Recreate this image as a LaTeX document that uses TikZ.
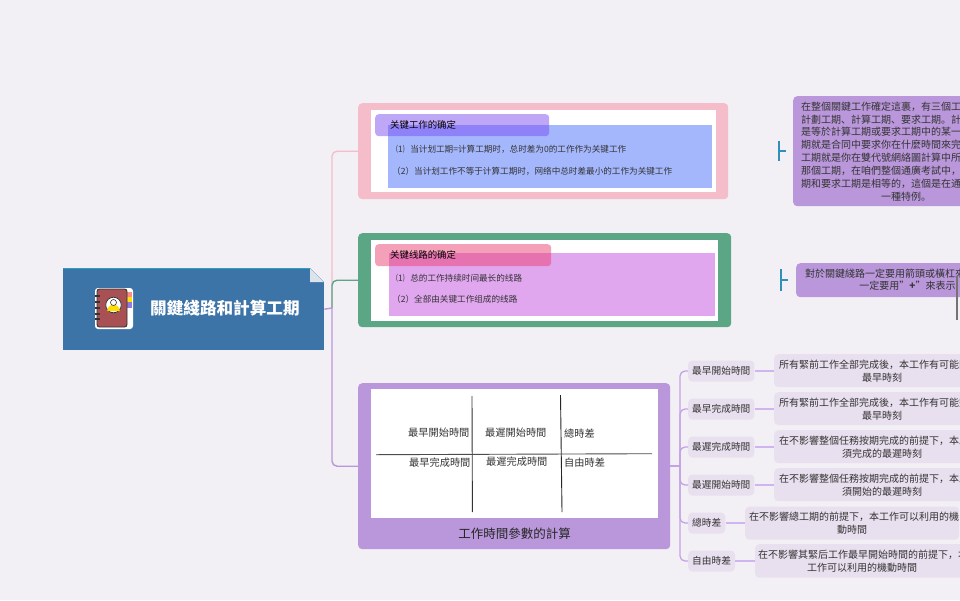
\documentclass[tikz,border=0pt]{standalone}
\usepackage{fontspec}
\setmainfont{Noto Sans CJK SC}
\usetikzlibrary{arrows.meta}
\definecolor{bgcol}{HTML}{F2F0F4}
\definecolor{rootcol}{HTML}{3D74A8}
\definecolor{pinkcol}{HTML}{F5BCC9}
\definecolor{greencol}{HTML}{5BA685}
\definecolor{purplecol}{HTML}{B997DA}
\definecolor{leafcol}{HTML}{E9E0EF}
\definecolor{linkcol}{HTML}{D0B4F0}
\definecolor{trunkcol}{HTML}{C4A2E6}
\definecolor{inkcol}{HTML}{333333}
\tikzset{
  card/.style={rounded corners=4pt,minimum width=#1,inner sep=0pt,anchor=north west},
  panel/.style={fill=white,inner sep=0pt,anchor=north west},
  tag/.style={rounded corners=3.5pt,fill opacity=.48,text opacity=1,minimum height=22pt,
    inner ysep=0pt,inner xsep=15pt,text width=144pt,align=left,anchor=north west,
    font=\fontsize{9.4pt}{11pt}\selectfont,text=black},
  entry/.style={anchor=west,inner sep=0pt,font=\fontsize{8.6pt}{10pt}\selectfont,text=inkcol},
  cell/.style={anchor=west,inner sep=0pt,font=\fontsize{10.2pt}{12pt}\selectfont,text=inkcol},
  leaf/.style={fill=leafcol,rounded corners=4pt,anchor=west,minimum height=21pt,inner ysep=0pt,
    inner xsep=4pt,font=\fontsize{9.7pt}{11pt}\selectfont,text=inkcol},
  detail/.style={fill=leafcol,rounded corners=4pt,anchor=north west,inner sep=0pt},
  row/.style={inner sep=0pt,font=\fontsize{10pt}{12pt}\selectfont,text=inkcol},
  branch/.style={line width=1.4pt,rounded corners=5pt},
  sublink/.style={line width=1.3pt,color=linkcol},
  trunkline/.style={line width=1.3pt,rounded corners=5pt,color=trunkcol},
  tick/.style={line width=1.3pt,color=rootcol!80!cyan},
}
\begin{document}
\begin{tikzpicture}[x=1pt,y=-1pt]
  \useasboundingbox (0,0) rectangle (960,600);
  \clip (0,0) rectangle (960,600);
  \fill[bgcol] (0,0) rectangle (960,600);

  % main cards
  \node[card=370pt,minimum height=96pt,fill=pinkcol] (keywork) at (358,103) {};
  \node[panel,minimum width=345pt,minimum height=82pt] (keyworkpanel) at (371,110) {};
  \node[panel,minimum width=324pt,minimum height=63pt,fill={rgb,255:red,164;green,183;blue,253}] (keyworkbody) at (388,125) {};
  \node[tag,fill={rgb,255:red,122;green,72;blue,242}] (keyworktag) at (375,114) {关键工作的确定};
  \node[entry] (keyworkone) at (396,149) {⑴\hspace{5.5pt}当计划工期=计算工期时，总时差为0的工作作为关键工作};
  \node[entry] (keyworktwo) at (392,171) {（2）当计划工作不等于计算工期时，网络中总时差最小的工作为关键工作};

  \node[card=373pt,minimum height=94pt,fill=greencol] (keypath) at (358,233) {};
  \node[panel,minimum width=347pt,minimum height=81pt] (keypathpanel) at (371,240) {};
  \node[panel,minimum width=326pt,minimum height=63pt,fill={rgb,255:red,224;green,166;blue,238}] (keypathbody) at (389,253) {};
  \node[tag,text width=146pt,fill={rgb,255:red,236;green,66;blue,116},fill opacity=.5] (keypathtag) at (375,244) {关键线路的确定};
  \node[entry] (keypathone) at (396,278) {⑴\hspace{5.5pt}总的工作持续时间最长的线路};
  \node[entry] (keypathtwo) at (392,299) {（2）全部由关键工作组成的线路};

  \node[card=312pt,minimum height=166pt,fill=purplecol] (calc) at (358,383) {};
  \node[panel,minimum width=287pt,minimum height=129pt] (calcpanel) at (371,389) {};
  \draw[inkcol,line width=.9pt] (472,396) -- (472.4,512);
  \draw[black!85,line width=.9pt] (560.5,395) -- (562,512);
  \draw[black!70,line width=.9pt] (376,454.7) -- (652,453.7);
  \node[cell] (earlystart) at (408,433) {最早開始時間};
  \node[cell] (latestart) at (485,433) {最遲開始時間};
  \node[cell] (totalfloat) at (564,434) {總時差};
  \node[cell] (earlyfinish) at (409,463) {最早完成時間};
  \node[cell] (latefinish) at (486,462) {最遲完成時間};
  \node[cell] (freefloat) at (564,463) {自由時差};
  \node[inner sep=0pt,font=\fontsize{12.5pt}{14pt}\selectfont,text=black!85] (calctitle) at (514.5,533.5) {工作時間參數的計算};

  % root
  \node[fill=rootcol,minimum width=261pt,minimum height=82pt,inner sep=0pt,anchor=north west] (root) at (63,268) {};
  \draw[rootcol!70!cyan,line width=.6pt] (63,268.3) -- (310,268.3);
  \fill[bgcol] (310,267.5) -- (324.5,267.5) -- (324.5,282) -- cycle;
  \fill[black!3!white,fill opacity=.85] (310,268) -- (324,282) -- (310,282) -- cycle;
  \node[anchor=west,inner sep=0pt,text=white,font=\fontsize{16.6pt}{18pt}\selectfont\bfseries] (roottitle) at (150,308) {關鍵綫路和計算工期};

  % notebook icon
  \fill[white,rounded corners=3pt] (95,288) rectangle (133,329);
  \fill[red!45!white] (126,292) rectangle (132,297);
  \fill[yellow!85!orange] (126,297) rectangle (132,302);
  \fill[purplecol!80!blue] (126,302) rectangle (132,307.5);
  \draw[inkcol,line width=.9pt,fill={rgb,255:red,168;green,80;blue,84},rounded corners=2.5pt] (97,289) rectangle (127,327);
  \foreach \ringy in {296,302,308,314,319}
    \draw[inkcol,line width=1.2pt] (94.5,\ringy) -- (100,\ringy);
  \fill[white] (113.5,305) circle (8pt);
  \draw[inkcol,line width=.8pt] (113.5,305) circle (7.8pt);
  \fill[yellow!80!orange] (107.2,311) arc[start angle=180,end angle=0,radius=6.3pt] -- cycle;
  \fill[white,draw=inkcol,line width=.6pt] (113.5,302.5) circle (3pt);

  % main connectors
  \coordinate (hub) at (332,308);
  \draw[branch,color=pinkcol] (hub) |- (keywork.west);
  \draw[branch,color=greencol] (hub) |- (keypath.west);
  \draw[branch,color=purplecol] (hub) |- (calc.west);
  \draw[line width=1.4pt,color=purplecol] (root.east) -- (hub);

  % notes on the right
  \node[fill=purplecol,rounded corners=4pt,anchor=north west,minimum width=220pt,minimum height=110pt] (worknote) at (793,96) {};
  \node[row,anchor=west] (noteone) at (801,106.5) {在整個關鍵工作確定這裏，有三個工};
  \node[row,anchor=west] (notetwo) at (801,119.5) {計劃工期、計算工期、要求工期。計};
  \node[row,anchor=west] (notethree) at (801,132) {是等於計算工期或要求工期中的某一};
  \node[row,anchor=west] (notefour) at (801,145) {期就是合同中要求你在什麼時間來完};
  \node[row,anchor=west] (notefive) at (801,158) {工期就是你在雙代號網絡圖計算中所};
  \node[row,anchor=west] (notesix) at (801,171) {那個工期，在咱們整個通廣考試中，};
  \node[row,anchor=west] (noteseven) at (801,183.5) {期和要求工期是相等的，這個是在通};
  \node[row] (noteeight) at (906,196.5) {一種特例。};
  \coordinate (workmarkend) at (786,151);
  \draw[tick] (779,141) -- (779,161);
  \draw[tick] (779,151) -- (workmarkend);

  \node[fill=purplecol,rounded corners=4pt,anchor=north west,minimum width=220pt,minimum height=34pt] (pathnote) at (796,263) {};
  \node[row,anchor=west] (pathone) at (805,274) {對於關鍵綫路一定要用箭頭或橫杠來};
  \node[row] (pathtwo) at (907.5,286) {一定要用"\textbf{+}"來表示};
  \coordinate (pathmarkend) at (788,280);
  \draw[tick] (781,269) -- (781,291);
  \draw[tick] (781,280) -- (pathmarkend);
  \draw[black!55,line width=1.1pt] (957,276) -- (957,320);

  % time parameters
  \node[leaf] (leafa) at (688,371) {最早開始時間};
  \node[leaf] (leafb) at (688,409) {最早完成時間};
  \node[leaf] (leafc) at (688,447) {最遲完成時間};
  \node[leaf] (leafd) at (688,485) {最遲開始時間};
  \node[leaf] (leafe) at (688,523) {總時差};
  \node[leaf] (leaff) at (688,561) {自由時差};

  \node[detail,minimum width=230pt,minimum height=33pt] (detaila) at (774,354) {};
  \node[row,anchor=west] (detailaone) at (779,365) {所有緊前工作全部完成後，本工作有可能開};
  \node[row] (detailatwo) at (882,378) {最早時刻};
  \node[detail,minimum width=230pt,minimum height=33pt] (detailb) at (774,392) {};
  \node[row,anchor=west] (detailbone) at (779,403) {所有緊前工作全部完成後，本工作有可能完};
  \node[row] (detailbtwo) at (882,415.5) {最早時刻};
  \node[detail,minimum width=230pt,minimum height=33pt] (detailc) at (774,430) {};
  \node[row,anchor=west] (detailcone) at (779,441) {在不影響整個任務按期完成的前提下，本工};
  \node[row] (detailctwo) at (882,453.5) {須完成的最遲時刻};
  \node[detail,minimum width=230pt,minimum height=33pt] (detaild) at (774,468) {};
  \node[row,anchor=west] (detaildone) at (779,479) {在不影響整個任務按期完成的前提下，本工};
  \node[row] (detaildtwo) at (882,491.5) {須開始的最遲時刻};
  \node[detail,minimum width=214pt,minimum height=33pt] (detaile) at (745,506.5) {};
  \node[row,anchor=west] (detaileone) at (749,517) {在不影響總工期的前提下，本工作可以利用的機};
  \node[row] (detailetwo) at (852,529.5) {動時間};
  \node[detail,minimum width=230pt,minimum height=33.5pt] (detailf) at (755,544) {};
  \node[row,anchor=west] (detailfone) at (758,554.5) {在不影響其緊后工作最早開始時間的前提下，本};
  \node[row] (detailftwo) at (862,567.5) {工作可以利用的機動時間};

  \coordinate (trunk) at (680,466);
  \draw[trunkline] (calc.east |- trunk) -- (trunk);
  \draw[trunkline] (trunk) |- (leafa.west);
  \draw[trunkline] (trunk) |- (leafb.west);
  \draw[trunkline] (trunk) |- (leafc.west);
  \draw[trunkline] (trunk) |- (leafd.west);
  \draw[trunkline] (trunk) |- (leafe.west);
  \draw[trunkline] (trunk) |- (leaff.west);
  \draw[sublink] (leafa.east) -- (leafa.east -| detaila.west);
  \draw[sublink] (leafb.east) -- (leafb.east -| detailb.west);
  \draw[sublink] (leafc.east) -- (leafc.east -| detailc.west);
  \draw[sublink] (leafd.east) -- (leafd.east -| detaild.west);
  \draw[sublink] (leafe.east) -- (leafe.east -| detaile.west);
  \draw[sublink] (leaff.east) -- (leaff.east -| detailf.west);
\end{tikzpicture}
\end{document}
